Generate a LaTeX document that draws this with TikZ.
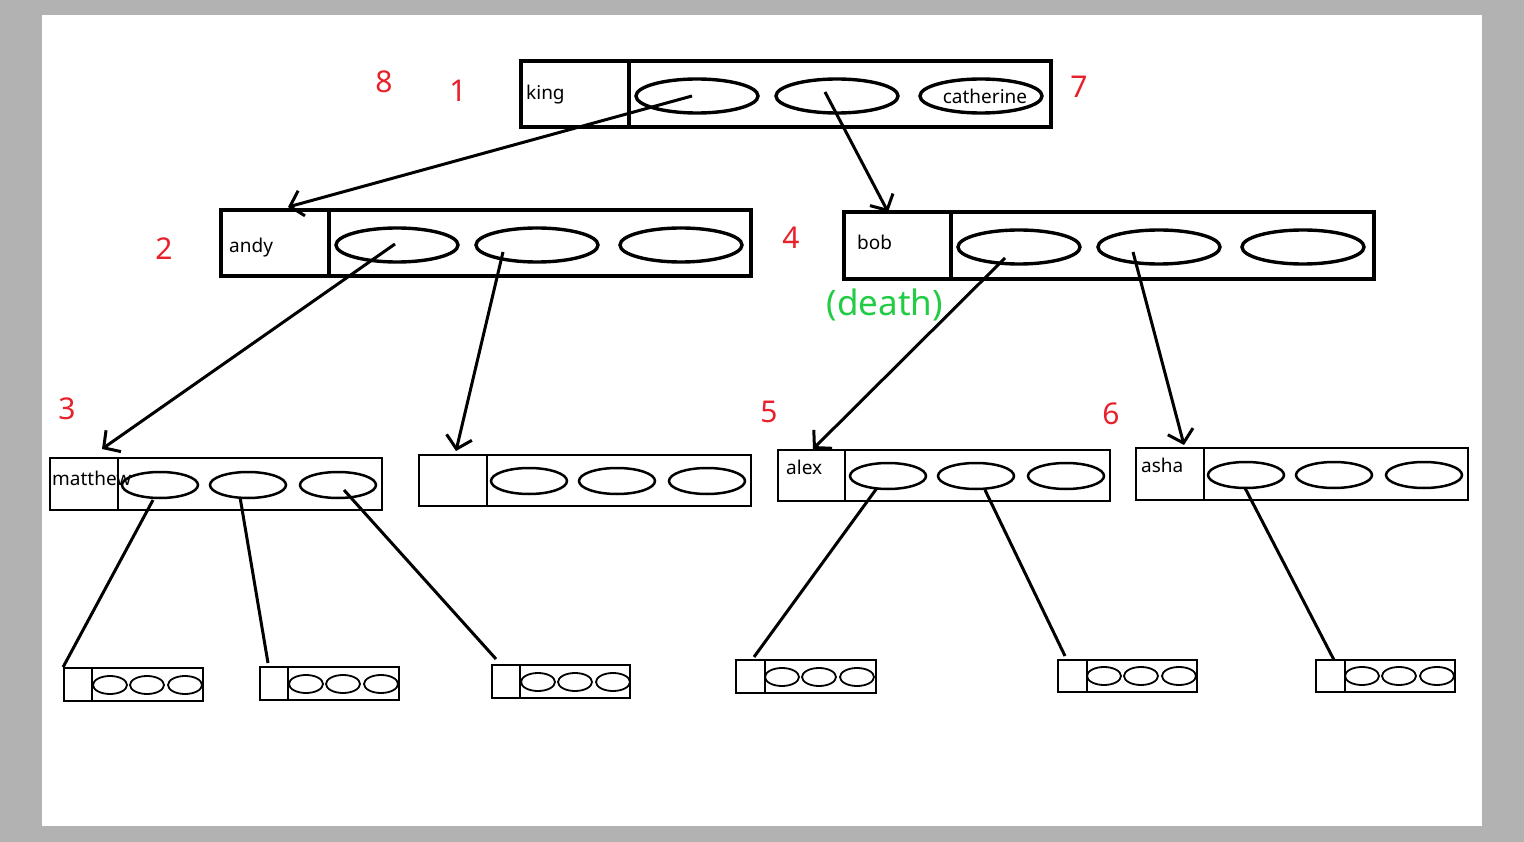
\documentclass[tikz,border=0pt]{standalone}
\usepackage{fontspec}
\setmainfont{Noto Sans}
\usetikzlibrary{shapes.geometric,arrows.meta}
\definecolor{redn}{HTML}{E8202A}
\definecolor{grn}{HTML}{22CC44}
\tikzset{
 bigline/.style={line width=3.4pt,minimum width=122pt,minimum height=34pt},
 smallline/.style={line width=2.5pt,minimum width=76pt,minimum height=26pt},
 tinyline/.style={line width=1.8pt,minimum width=34pt,minimum height=18pt},
 oval/.style={ellipse,draw,inner sep=0pt},
 arr/.style={line width=3pt,-{Straight Barb[length=12pt,width=26pt,line width=3pt]}},
 lnk/.style={line width=3pt},
 num/.style={text=redn,font=\fontsize{30}{30}\selectfont},
 nm/.style={anchor=west,font=\fontsize{19}{19}\selectfont,inner sep=0pt},
}
% \tbox{name}{x1}{y1}{x2}{y2}{div}{style}{ex/suffix list}{ey}
\newcommand\tbox[9]{%
 \node[draw,#7,rectangle,inner sep=0pt,minimum width={(#4-#2)*1pt},minimum height={(#5-#3)*1pt}] (#1) at ({(#2+#4)/2},{(#3+#5)/2}) {};
 \draw[#7] (#6,#3) -- (#6,#5);
 \foreach \ex/\sx in {#8} {\node[oval,#7] (#1\sx) at (\ex,#9) {};}
}
\begin{document}
\begin{tikzpicture}[x=1pt,y=-1pt]
\fill[gray!60] (0,0) rectangle (1524,842);
\fill[white] (42,15) rectangle (1482,826);
\useasboundingbox (0,0) rectangle (1524,842);
\tbox{king}{521}{61}{1051}{127}{629}{bigline}{697/a,837/b,981/c}{96}
\tbox{andy}{221}{210}{751}{276}{329}{bigline}{397/a,537/b,681/c}{245}
\tbox{bob}{844}{212}{1374}{279}{951}{bigline}{1019/a,1159/b,1303/c}{247}
\tbox{mat}{50}{458}{382}{510}{118}{smallline}{160/a,248/b,338/c}{485}
\tbox{emp}{419}{455}{751}{506}{487}{smallline}{529/a,617/b,707/c}{481}
\tbox{alex}{778}{450}{1110}{501}{845}{smallline}{888/a,976/b,1066/c}{476}
\tbox{asha}{1136}{448}{1468}{500}{1204}{smallline}{1246/a,1334/b,1424/c}{475}
\tbox{sa}{64}{668}{203}{701}{92}{tinyline}{110/a,147/b,185/c}{685}
\tbox{sb}{260}{667}{399}{700}{288}{tinyline}{306/a,343/b,381/c}{684}
\tbox{sc}{492}{665}{630}{698}{520}{tinyline}{538/a,575/b,613/c}{682}
\tbox{sd}{736}{660}{876}{693}{765}{tinyline}{782/a,819/b,857/c}{677}
\tbox{se}{1058}{660}{1197}{692}{1087}{tinyline}{1104/a,1141/b,1179/c}{676}
\tbox{sf}{1316}{660}{1455}{692}{1345}{tinyline}{1362/a,1399/b,1437/c}{676}
\node[nm] (tk) at (526,95) {king};
\node[nm] (ta) at (229,248) {andy};
\node[nm] (tb) at (857,242) {bob};
\node[nm] (tm) at (52,478) {matthew};
\node[nm] (tx) at (786,467) {alex};
\node[nm] (ts) at (1141,465) {asha};
\node[font=\fontsize{19}{19}\selectfont,inner sep=0pt] (tc) at (985,96) {catherine};
\coordinate (pa) at (288,207);
\coordinate (pb) at (888,212);
\coordinate (pm) at (102,449);
\coordinate (pe) at (456,451);
\coordinate (px) at (813,449);
\coordinate (ps) at (1184,445);
\coordinate (qb) at (268,663);
\coordinate (qc) at (496,659);
\coordinate (qd) at (754,657);
\coordinate (qe) at (1065,656);
\coordinate (qf) at (1334,660);
\draw[arr] (692,96) -- (pa);
\draw[arr] (825,92) -- (pb);
\draw[arr] (395,244) -- (pm);
\draw[arr] (503,252) -- (pe);
\draw[arr] (1005,258) -- (px);
\draw[arr] (1133,252) -- (ps);
\draw[lnk] (153,500) -- (sa.north west);
\draw[lnk] (240,497) -- (qb);
\draw[lnk] (344,490) -- (qc);
\draw[lnk] (877,488) -- (qd);
\draw[lnk] (985,490) -- (qe);
\draw[lnk] (1245,488) -- (qf);
\node[num] (n8) at (384,82) {8};
\node[num] (n1) at (458,91) {1};
\node[num] (n7) at (1079,87) {7};
\node[num] (n2) at (164,249) {2};
\node[num] (n4) at (791,238) {4};
\node[num] (n3) at (67,409) {3};
\node[num] (n5) at (769,412) {5};
\node[num] (n6) at (1111,414) {6};
\node[text=grn,font=\fontsize{35}{35}\selectfont] (dth) at (885,305) {(death)};
\end{tikzpicture}
\end{document}
